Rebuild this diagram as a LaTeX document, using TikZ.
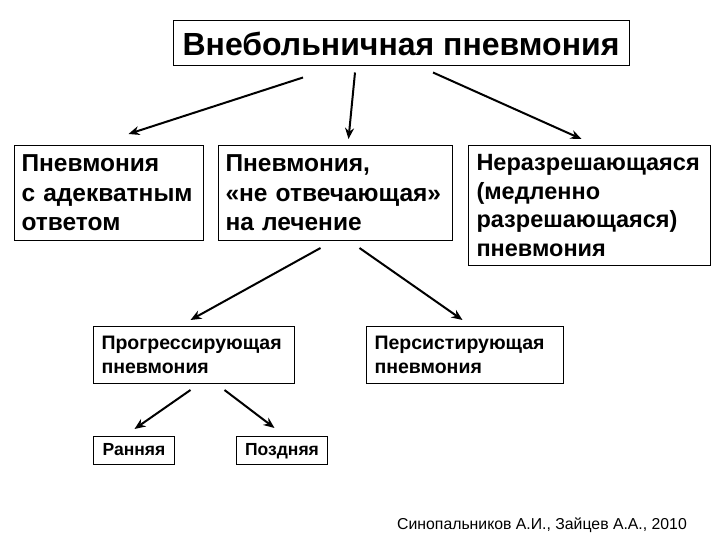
\documentclass[tikz,border=0pt]{standalone}
\usepackage{fontspec}
\setmainfont{Liberation Sans}
\usetikzlibrary{arrows.meta,calc}

\begin{document}
\begin{tikzpicture}[x=1pt, y=-1pt,
    box/.style={draw, line width=1pt, anchor=north west, align=left, inner xsep=7pt, inner ysep=0pt,
        font=\bfseries\fontsize{24.5}{29.5}\selectfont},
    lowbox/.style={box, inner xsep=8pt, font=\bfseries\fontsize{19.5}{24}\selectfont},
    smallbox/.style={box, align=center, inner xsep=0pt, text height=13pt, text depth=4pt,
        font=\bfseries\fontsize{17.5}{21}\selectfont},
    arr/.style={-{Stealth[length=11pt, width=9pt]}, line width=2pt}]
    \useasboundingbox (0,0) rectangle (720,540);

    % Main heading
    \node[draw, line width=1pt, minimum width=456pt, minimum height=45pt, inner sep=0pt,
        font=\bfseries\fontsize{32}{36}\selectfont] (cap) at (401,43.5) {Внебольничная пневмония};

    % First level
    \node[box, text width=175pt, minimum height=95pt] (adeq) at (14,145)
        {Пневмония\\с адекватным\\ответом};
    \node[box, text width=220pt, minimum height=95pt] (nonresp) at (218,145)
        {Пневмония,\\«не отвечающая»\\на лечение};
    \node[box, inner xsep=8pt, text width=226pt, minimum height=120pt,
        font=\bfseries\fontsize{23.5}{28.5}\selectfont] (slow) at (468,145)
        {Неразрешающаяся\\(медленно\\разрешающаяся)\\пневмония};

    % Second level
    \node[lowbox, text width=185pt, minimum height=57pt] (progr) at (93,326)
        {Прогрессирующая\\пневмония};
    \node[lowbox, text width=181pt, minimum height=57pt] (persist) at (366,326)
        {Персистирующая\\пневмония};

    % Third level
    \node[smallbox, text width=81pt, minimum height=28pt] (early) at (93,436) {Ранняя};
    \node[smallbox, text width=91pt, minimum height=28pt] (late) at (236,436) {Поздняя};

    % Arrows
    \draw[arr] ($(cap.south)+(-98,11)$) -- ($(adeq.north)+(19.5,-11)$);
    \draw[arr] ($(cap.south)+(-46,6)$) -- ($(nonresp.north)+(13,-6)$);
    \draw[arr] ($(cap.south)+(32,6)$) -- ($(slow.north)+(-8,-6)$);
    \draw[arr] ($(nonresp.south)+(-15,7)$) -- ($(progr.north)+(-3.5,-6)$);
    \draw[arr] ($(nonresp.south)+(24,7)$) -- ($(persist.north)+(-2.5,-6)$);
    \draw[arr] ($(progr.south)+(-3.5,6)$) -- ($(early.north)+(0.5,-7)$);
    \draw[arr] ($(progr.south)+(30.5,6)$) -- ($(late.north)+(-7.5,-8)$);

    % Source
    \node[anchor=west, inner sep=0pt, font=\fontsize{15.8}{19}\selectfont] (src) at (397,525)
        {Синопальников А.И., Зайцев А.А., 2010};
\end{tikzpicture}
\end{document}
